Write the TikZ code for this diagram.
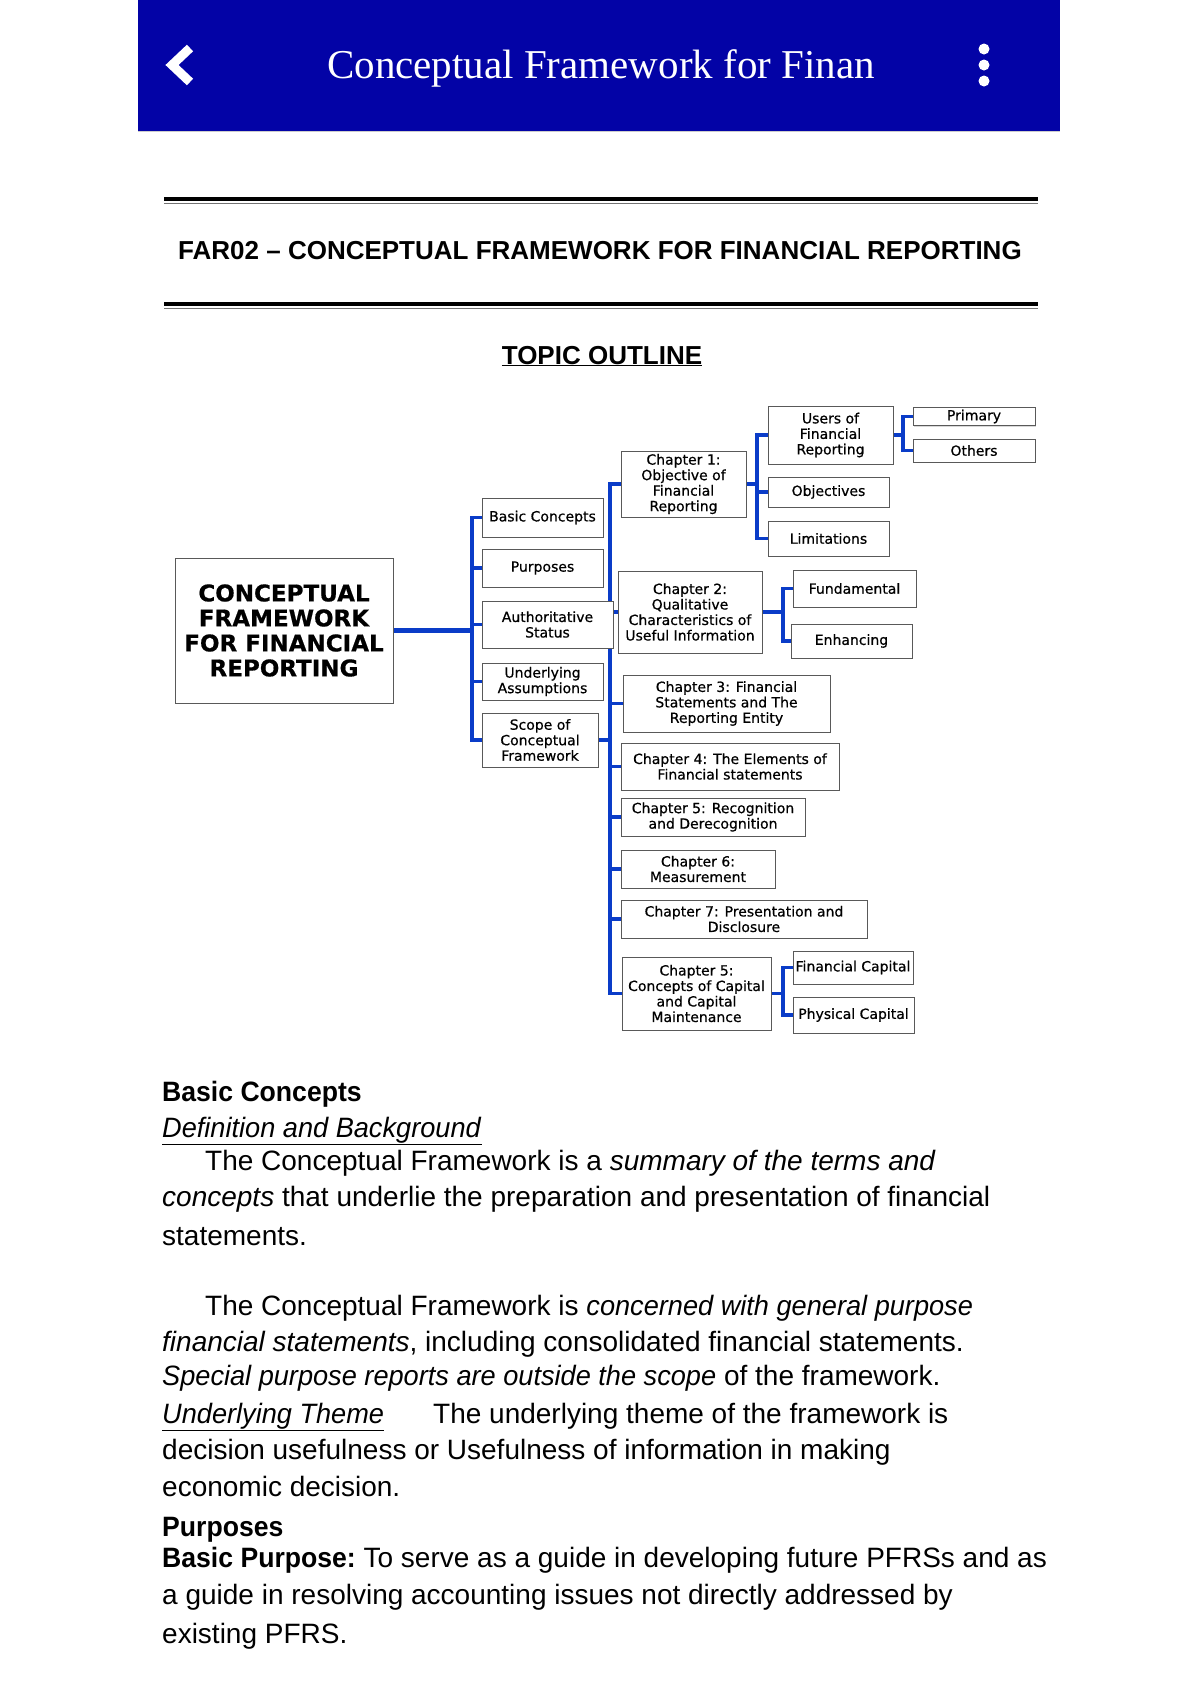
\documentclass[tikz,border=0pt]{standalone}
\usepackage{fontspec}
\setmainfont{Liberation Sans}
\newfontfamily\headserif{Liberation Serif}
\newfontfamily\boxfont{DejaVu Sans}[FakeBold=0.6]
\usetikzlibrary{positioning}
\usetikzlibrary{shadows}
\usetikzlibrary{backgrounds}
\definecolor{headblue}{HTML}{0303A6}
\definecolor{linkblue}{HTML}{0A3CC8}
\newcommand{\narrowbf}[1]{\scalebox{0.95}[1]{\textbf{#1}}}
\newcommand{\narrowit}[1]{\scalebox{0.97}[1]{\textit{#1}}}

\begin{document}
\begin{tikzpicture}[x=1pt, y=-1pt,
                    box/.style={draw=black!65, line width=0.9pt, fill=white, inner sep=0pt,
                                align=center, font=\boxfont\fontsize{14}{15.5}\selectfont,
                                drop shadow={shadow xshift=1.2pt, shadow yshift=-1.2pt,
                                             fill=black!30}},
                    dims/.style 2 args={minimum width=#1pt, minimum height=#2pt},
                    link/.style={draw=linkblue, line width=3.6pt},
                    bodyline/.style={anchor=base west, inner sep=0pt,
                                     font=\fontsize{28}{34}\selectfont}]

  \begin{pgfonlayer}{background}
    \fill[white] (0,0) rectangle (1200,1698);
  \end{pgfonlayer}
  \useasboundingbox (0,0) rectangle (1200,1698);

  % app bar
  \fill[headblue] (138,0) rectangle (1060,131);
  \draw[black!20, line width=1pt] (138,131.5) -- (1060,131.5);
  \draw[white, line width=9pt, line join=miter] (190,48) -- (172,65) -- (190,82);
  \foreach \y in {49,65,81} \fill[white] (984,\y) circle (5.5);
  \node[text=white, anchor=base, inner sep=0pt,
        font=\headserif\fontsize{41}{48}\selectfont] (title) at (601,78)
    {Conceptual Framework for Finan};

  % heading between rules
  \draw[line width=3.5pt] (164,199) -- (1038,199);
  \draw[black!55, line width=1.2pt] (164,203.5) -- (1038,203.5);
  \node[anchor=base, inner sep=0pt, font=\bfseries\fontsize{26}{30}\selectfont] (head) at (600,259)
    {FAR02 -- CONCEPTUAL FRAMEWORK FOR FINANCIAL REPORTING};
  \draw[line width=3.5pt] (164,304) -- (1038,304);
  \draw[black!55, line width=1.2pt] (164,308.5) -- (1038,308.5);
  \node[anchor=base, inner sep=0pt, font=\bfseries\fontsize{26}{30}\selectfont] (outline) at (602,364)
    {\underline{TOPIC OUTLINE}};

  % outline tree
  \node[box, dims={218}{145}, font=\boxfont\bfseries\fontsize{23}{25}\selectfont] (main) at (284,630.5)
    {CONCEPTUAL\\FRAMEWORK\\FOR FINANCIAL\\REPORTING};

  \node[box, dims={121}{39}] (basic) at (542.5,517.5) {Basic Concepts};
  \node[box, dims={121}{38}] (purp)  at (542.5,568)   {Purposes};
  \node[box, dims={131}{47}] (auth)  at (547.5,624.5) {Authoritative\\Status};
  \node[box, dims={121}{37}] (under) at (542.5,681.5) {Underlying\\Assumptions};
  \node[box, dims={116}{54}] (scope) at (540,740)     {Scope of\\Conceptual\\Framework};

  \node[box, dims={125}{66}] (ch1) at (683.5,484)  {Chapter 1:\\Objective of\\Financial\\Reporting};
  \node[box, dims={144}{82}] (ch2) at (690,612)    {Chapter 2:\\Qualitative\\Characteristics of\\Useful Information};
  \node[box, dims={207}{57}] (ch3) at (726.5,703.5) {Chapter 3: Financial\\Statements and The\\Reporting Entity};
  \node[box, dims={218}{47}] (ch4) at (730,766.5)  {Chapter 4: The Elements of\\Financial statements};
  \node[box, dims={184}{38}] (ch5) at (713,817)    {Chapter 5: Recognition\\and Derecognition};
  \node[box, dims={154}{38}] (ch6) at (698,869)    {Chapter 6:\\Measurement};
  \node[box, dims={246}{38}] (ch7) at (744,919)    {Chapter 7: Presentation and\\Disclosure};
  \node[box, dims={149}{73}] (ch8) at (696.5,993.5) {Chapter 5:\\Concepts of Capital\\and Capital\\Maintenance};

  \node[box, dims={125}{58}] (users) at (830.5,435)  {Users of\\Financial\\Reporting};
  \node[box, dims={121}{30}] (obj)   at (828.5,492)  {Objectives};
  \node[box, dims={121}{35}] (lim)   at (828.5,538.5) {Limitations};
  \node[box, dims={122}{18}] (prim)  at (974,416.5)  {Primary};
  \node[box, dims={122}{23}] (oth)   at (974,450.5)  {Others};
  \node[box, dims={123}{37}] (fund)  at (854.5,588.5) {Fundamental};
  \node[box, dims={121}{34}] (enh)   at (851.5,641)  {Enhancing};
  \node[box, dims={120}{33}] (fincap) at (853,967.5) {Financial Capital};
  \node[box, dims={121}{36}] (phycap) at (853.5,1015) {Physical Capital};

  \coordinate (j1) at (472,630.5);
  \coordinate (j2) at (610,740);
  \coordinate (j3) at (757,484);
  \coordinate (j4) at (903,435);
  \coordinate (j5) at (783,612);
  \coordinate (j6) at (783,993.5);

  \begin{pgfonlayer}{background}
    \draw[link, line width=4.5pt] (main.east) -- (j1);
    \foreach \n in {basic,purp,auth,under,scope} \draw[link] (j1) |- (\n.west);
    \draw[link] (scope.east) -- (j2);
    \foreach \n in {ch1,ch2,ch3,ch4,ch5,ch6,ch7,ch8} \draw[link] (j2) |- (\n.west);
    \draw[link] (ch1.east) -- (j3);
    \foreach \n in {users,obj,lim} \draw[link] (j3) |- (\n.west);
    \draw[link] (users.east) -- (j4);
    \foreach \n in {prim,oth} \draw[link] (j4) |- (\n.west);
    \draw[link] (ch2.east) -- (j5);
    \foreach \n in {fund,enh} \draw[link] (j5) |- (\n.west);
    \draw[link] (ch8.east) -- (j6);
    \foreach \n in {fincap,phycap} \draw[link] (j6) |- (\n.west);
  \end{pgfonlayer}

  % body text
  \node[bodyline] (t1)  at (162,1101) {\narrowbf{Basic Concepts}};
  \node[bodyline] (t2)  at (162,1137) {\underline{\narrowit{Definition and Background}}};
  \node[bodyline] (t3)  at (205,1170) {The Conceptual Framework is a \textit{summary of the terms and}};
  \node[bodyline] (t4)  at (162,1206) {\textit{concepts} that underlie the preparation and presentation of financial};
  \node[bodyline] (t5)  at (162,1245) {statements.};
  \node[bodyline] (t6)  at (205,1315) {The Conceptual Framework is \narrowit{concerned with general purpose}};
  \node[bodyline] (t7)  at (162,1351) {\textit{financial statements}, including consolidated financial statements.};
  \node[bodyline] (t8)  at (162,1385) {\narrowit{Special purpose reports are outside the scope} of the framework.};
  \node[bodyline] (t9)  at (162,1423) {\underline{\narrowit{Underlying Theme}}};
  \node[bodyline] (t9b) at (433,1423) {The underlying theme of the framework is};
  \node[bodyline] (t10) at (162,1459) {decision usefulness or Usefulness of information in making};
  \node[bodyline] (t11) at (162,1496) {economic decision.};
  \node[bodyline] (t12) at (162,1536) {\narrowbf{Purposes}};
  \node[bodyline] (t13) at (162,1567) {\narrowbf{Basic Purpose:} To serve as a guide in developing future PFRSs and as};
  \node[bodyline] (t14) at (162,1604) {a guide in resolving accounting issues not directly addressed by};
  \node[bodyline] (t15) at (162,1643) {existing PFRS.};

\end{tikzpicture}
\end{document}
